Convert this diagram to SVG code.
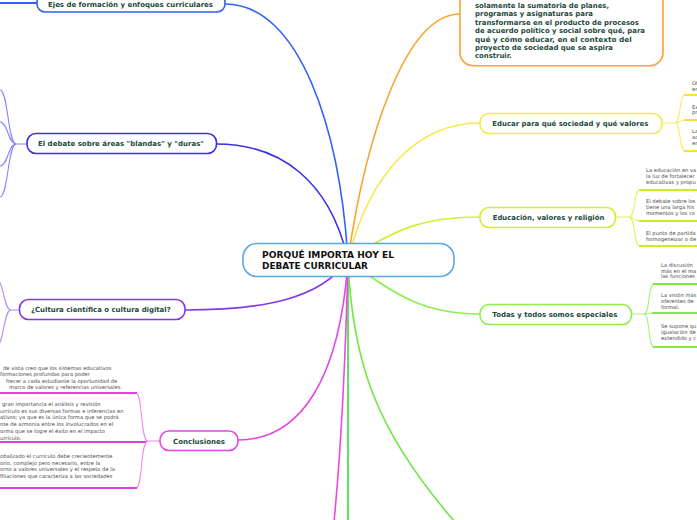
<svg xmlns="http://www.w3.org/2000/svg" width="697" height="520" viewBox="0 0 697 520">
<style>
.c{fill:none;stroke-width:1.6;stroke-linecap:round}
.s{fill:none;stroke-width:1.1}
.u{fill:none;stroke-width:2}
.n{fill:#fff;stroke-width:1.6}
.t{font-family:"DejaVu Sans",Verdana,sans-serif;font-weight:bold;font-size:7px;fill:#1b4a3a}
.ct{font-family:"DejaVu Sans",Verdana,sans-serif;font-weight:bold;font-size:9px;fill:#111}
.st{font-family:"DejaVu Sans",Verdana,sans-serif;font-size:5.2px;fill:#4a4a4a}
</style>
<rect width="697" height="520" fill="#fff"/>
<g id="connectors">
<path class="c" stroke="#2f62f5" d="M348,260 C340,130 300,4 225,4"/>
<path class="c" stroke="#3a2ee6" d="M348,260 C330,180 280,144 216,144"/>
<path class="c" stroke="#f7a631" d="M348,260 C365,140 405,14 460,14"/>
<path class="c" stroke="#f8e848" d="M348,260 C370,170 420,123 480,123"/>
<path class="c" stroke="#d4ef30" d="M348,260 C400,225 430,217 480,217"/>
<path class="c" stroke="#8cef52" d="M348,260 C400,300 430,314 480,314"/>
<path class="c" stroke="#36dd3a" d="M348,260 L348,522"/>
<path class="c" stroke="#6ee83e" d="M348,260 C352,360 375,430 455,522"/>
<path class="c" stroke="#e446e6" d="M348,260 C340,380 300,440 238,440"/>
<path class="c" stroke="#f046dc" d="M348,260 C345,380 340,460 334,522"/>
<path class="c" stroke="#8538ec" d="M348,260 C320,300 260,310 185,310"/>
<!-- Ejes left -->
<path class="u" stroke="#2f62f5" d="M0,3 L37,3"/>
<!-- debate left -->
<path class="s" stroke="#8a82ff" d="M27,144 L16,144 C8,144 8,90 0,90"/>
<path class="s" stroke="#8a82ff" d="M16,144 C8,144 8,122 0,122"/>
<path class="s" stroke="#8a82ff" d="M16,144 C8,144 8,166 0,166"/>
<path class="s" stroke="#8a82ff" d="M16,144 C8,144 8,197 0,197"/>
<!-- cultura left -->
<path class="s" stroke="#b58af5" d="M19,310 L11,310 C4,310 4,284 -2,280"/>
<path class="s" stroke="#b58af5" d="M11,310 C4,310 4,340 -2,346"/>
<!-- conclusiones subs -->
<path class="s" stroke="#ee8cf0" d="M160,441 L148,441 C140,441 143,393 136,393"/>
<path class="s" stroke="#ee8cf0" d="M148,441 C140,441 143,488 136,488"/>
<path class="u" stroke="#e23ee6" d="M0,393 L137,393"/>
<path class="u" stroke="#e23ee6" d="M0,442 L146,442"/>
<path class="u" stroke="#e23ee6" d="M0,488 L137,488"/>
<!-- educar subs -->
<path class="s" stroke="#fbe96a" d="M662,123 L675,123 C681,123 679,95 685,95"/>
<path class="s" stroke="#fbe96a" d="M675,123 C680,123 680,120 685,120"/>
<path class="s" stroke="#fbe96a" d="M675,123 C681,123 679,151 685,151"/>
<path class="u" stroke="#f6e232" d="M684,95 L697,95 M684,120 L697,120 M684,151 L697,151"/>
<!-- educacion subs -->
<path class="s" stroke="#def55e" d="M616,217 L629,217 C636,217 633,190 640,190"/>
<path class="s" stroke="#def55e" d="M629,217 C634,217 634,221 640,221"/>
<path class="s" stroke="#def55e" d="M629,217 C636,217 633,246 640,246"/>
<path class="u" stroke="#cfeb1c" d="M639,190 L697,190 M639,221 L697,221 M639,246 L697,246"/>
<!-- todas subs -->
<path class="s" stroke="#a6f27a" d="M632,314 L644,314 C650,314 648,284 654,284"/>
<path class="s" stroke="#a6f27a" d="M644,314 C648,314 648,313 653,313"/>
<path class="s" stroke="#a6f27a" d="M644,314 C650,314 648,347 654,347"/>
<path class="u" stroke="#82e846" d="M653,284 L697,284 M652,313 L697,313 M653,347 L697,347"/>
</g>
<g id="center">
<rect class="n" stroke="#5aa6e0" x="243" y="243.5" width="211" height="33" rx="14"/>
<text class="ct" x="262" y="258" textLength="132" lengthAdjust="spacingAndGlyphs">PORQUÉ IMPORTA HOY EL</text>
<text class="ct" x="262" y="269" textLength="106" lengthAdjust="spacingAndGlyphs">DEBATE CURRICULAR</text>
</g>
<g id="ejes">
<rect class="n" stroke="#2f62f5" x="37" y="-6" width="188" height="18" rx="8"/>
<text class="t" x="48" y="6.7" textLength="165" lengthAdjust="spacingAndGlyphs">Ejes de formación y enfoques curriculares</text>
</g>
<g id="proposito">
<rect class="n" stroke="#f7a631" x="460" y="-30" width="203" height="95.7" rx="13"/>
<text class="t" x="475" y="8" textLength="134" lengthAdjust="spacingAndGlyphs">solamente la sumatoria de planes,</text>
<text class="t" x="475" y="16.4" textLength="118" lengthAdjust="spacingAndGlyphs">programas y asignaturas para</text>
<text class="t" x="475" y="24.8" textLength="164" lengthAdjust="spacingAndGlyphs">transformarse en el producto de procesos</text>
<text class="t" x="475" y="33.2" textLength="170" lengthAdjust="spacingAndGlyphs">de acuerdo político y social sobre qué, para</text>
<text class="t" x="475" y="41.6" textLength="156.7" lengthAdjust="spacingAndGlyphs">qué y cómo educar, en el contexto del</text>
<text class="t" x="475" y="50" textLength="138" lengthAdjust="spacingAndGlyphs">proyecto de sociedad que se aspira</text>
<text class="t" x="475" y="58.4" textLength="36.7" lengthAdjust="spacingAndGlyphs">construir.</text>
</g>
<g id="debate">
<rect class="n" stroke="#3a2ee6" x="27" y="133.5" width="189.5" height="20" rx="9"/>
<text class="t" x="38" y="146.2" textLength="166" lengthAdjust="spacingAndGlyphs">El debate sobre áreas "blandas" y "duras"</text>
</g>
<g id="cultura">
<rect class="n" stroke="#7f36ec" x="19.5" y="299.5" width="165.5" height="20" rx="9"/>
<text class="t" x="31" y="312.2" textLength="139.7" lengthAdjust="spacingAndGlyphs">¿Cultura científica o cultura digital?</text>
</g>
<g id="conclusiones">
<rect class="n" stroke="#e446e6" x="160" y="431" width="78" height="19.5" rx="9"/>
<text class="t" x="173" y="443.5" textLength="52" lengthAdjust="spacingAndGlyphs">Conclusiones</text>
</g>
<g id="conclusiones-subs">
<text class="st" x="3" y="370">de vista creo que los sistemas educativos</text>
<text class="st" x="0" y="376.3">formaciones profundas para poder</text>
<text class="st" x="6" y="382.6">frecer a cada estudiante la oportunidad de</text>
<text class="st" x="9" y="388.9">marco de valores y referencias universales.</text>
<text class="st" x="2" y="406">gran importancia el análisis y revisión</text>
<text class="st" x="0" y="412.7">urrículo es sus diversas formas e inferencias en</text>
<text class="st" x="0" y="419.4">ativos; ya que es la única forma que se podrá</text>
<text class="st" x="0" y="426.1">nte de armonía entre los involucrados en el</text>
<text class="st" x="0" y="432.8">orma que se logre el éxito en el impacto</text>
<text class="st" x="0" y="439.5">urrículo.</text>
<text class="st" x="0" y="458">obalizado el currículo debe crecientemente</text>
<text class="st" x="0" y="464.5">orio, complejo pero necesario, entre la</text>
<text class="st" x="0" y="471">orno a valores universales y el respeto de la</text>
<text class="st" x="0" y="477.5">filiaciones que caracteriza a las sociedades</text>
</g>
<g id="educar">
<rect class="n" stroke="#f8e848" x="480" y="113.5" width="182" height="20" rx="9"/>
<text class="t" x="492.3" y="126.2" textLength="156" lengthAdjust="spacingAndGlyphs">Educar para qué sociedad y qué valores</text>
</g>
<g id="educar-subs">
<text class="st" x="692" y="85">Ot</text>
<text class="st" x="692" y="90.5">en</text>
<text class="st" x="692" y="108.5">Ex</text>
<text class="st" x="692" y="114">pr</text>
<text class="st" x="692" y="133">La</text>
<text class="st" x="692" y="139">ac</text>
<text class="st" x="692" y="144.5">en</text>
</g>
<g id="educacion">
<rect class="n" stroke="#d4ef30" x="480" y="207.5" width="135.5" height="20" rx="9"/>
<text class="t" x="492.7" y="220.2" textLength="111.6" lengthAdjust="spacingAndGlyphs">Educación, valores y religión</text>
</g>
<g id="educacion-subs">
<text class="st" x="646" y="172">La educación en va</text>
<text class="st" x="646" y="178">la luz de fortalecer</text>
<text class="st" x="646" y="184">educativas y propu</text>
<text class="st" x="646" y="203">El debate sobre los</text>
<text class="st" x="646" y="209">tiene una larga his</text>
<text class="st" x="646" y="215">momentos y los co</text>
<text class="st" x="646" y="234.5">El punto de partida</text>
<text class="st" x="646" y="241">homogeneizar o de</text>
</g>
<g id="todas">
<rect class="n" stroke="#8cef52" x="480" y="304.5" width="151.5" height="20" rx="9"/>
<text class="t" x="492.3" y="317.2" textLength="125" lengthAdjust="spacingAndGlyphs">Todas y todos somos especiales</text>
</g>
<g id="todas-subs">
<text class="st" x="661" y="266.5">La discusión</text>
<text class="st" x="661" y="272.5">más en el ma</text>
<text class="st" x="661" y="278">las funciones</text>
<text class="st" x="661" y="297">La visión más</text>
<text class="st" x="661" y="303">oferentes de</text>
<text class="st" x="661" y="308.5">formal.</text>
<text class="st" x="661" y="327.5">Se supone qu</text>
<text class="st" x="661" y="333.5">igualación de</text>
<text class="st" x="661" y="339.5">extendido y c</text>
</g>
</svg>
